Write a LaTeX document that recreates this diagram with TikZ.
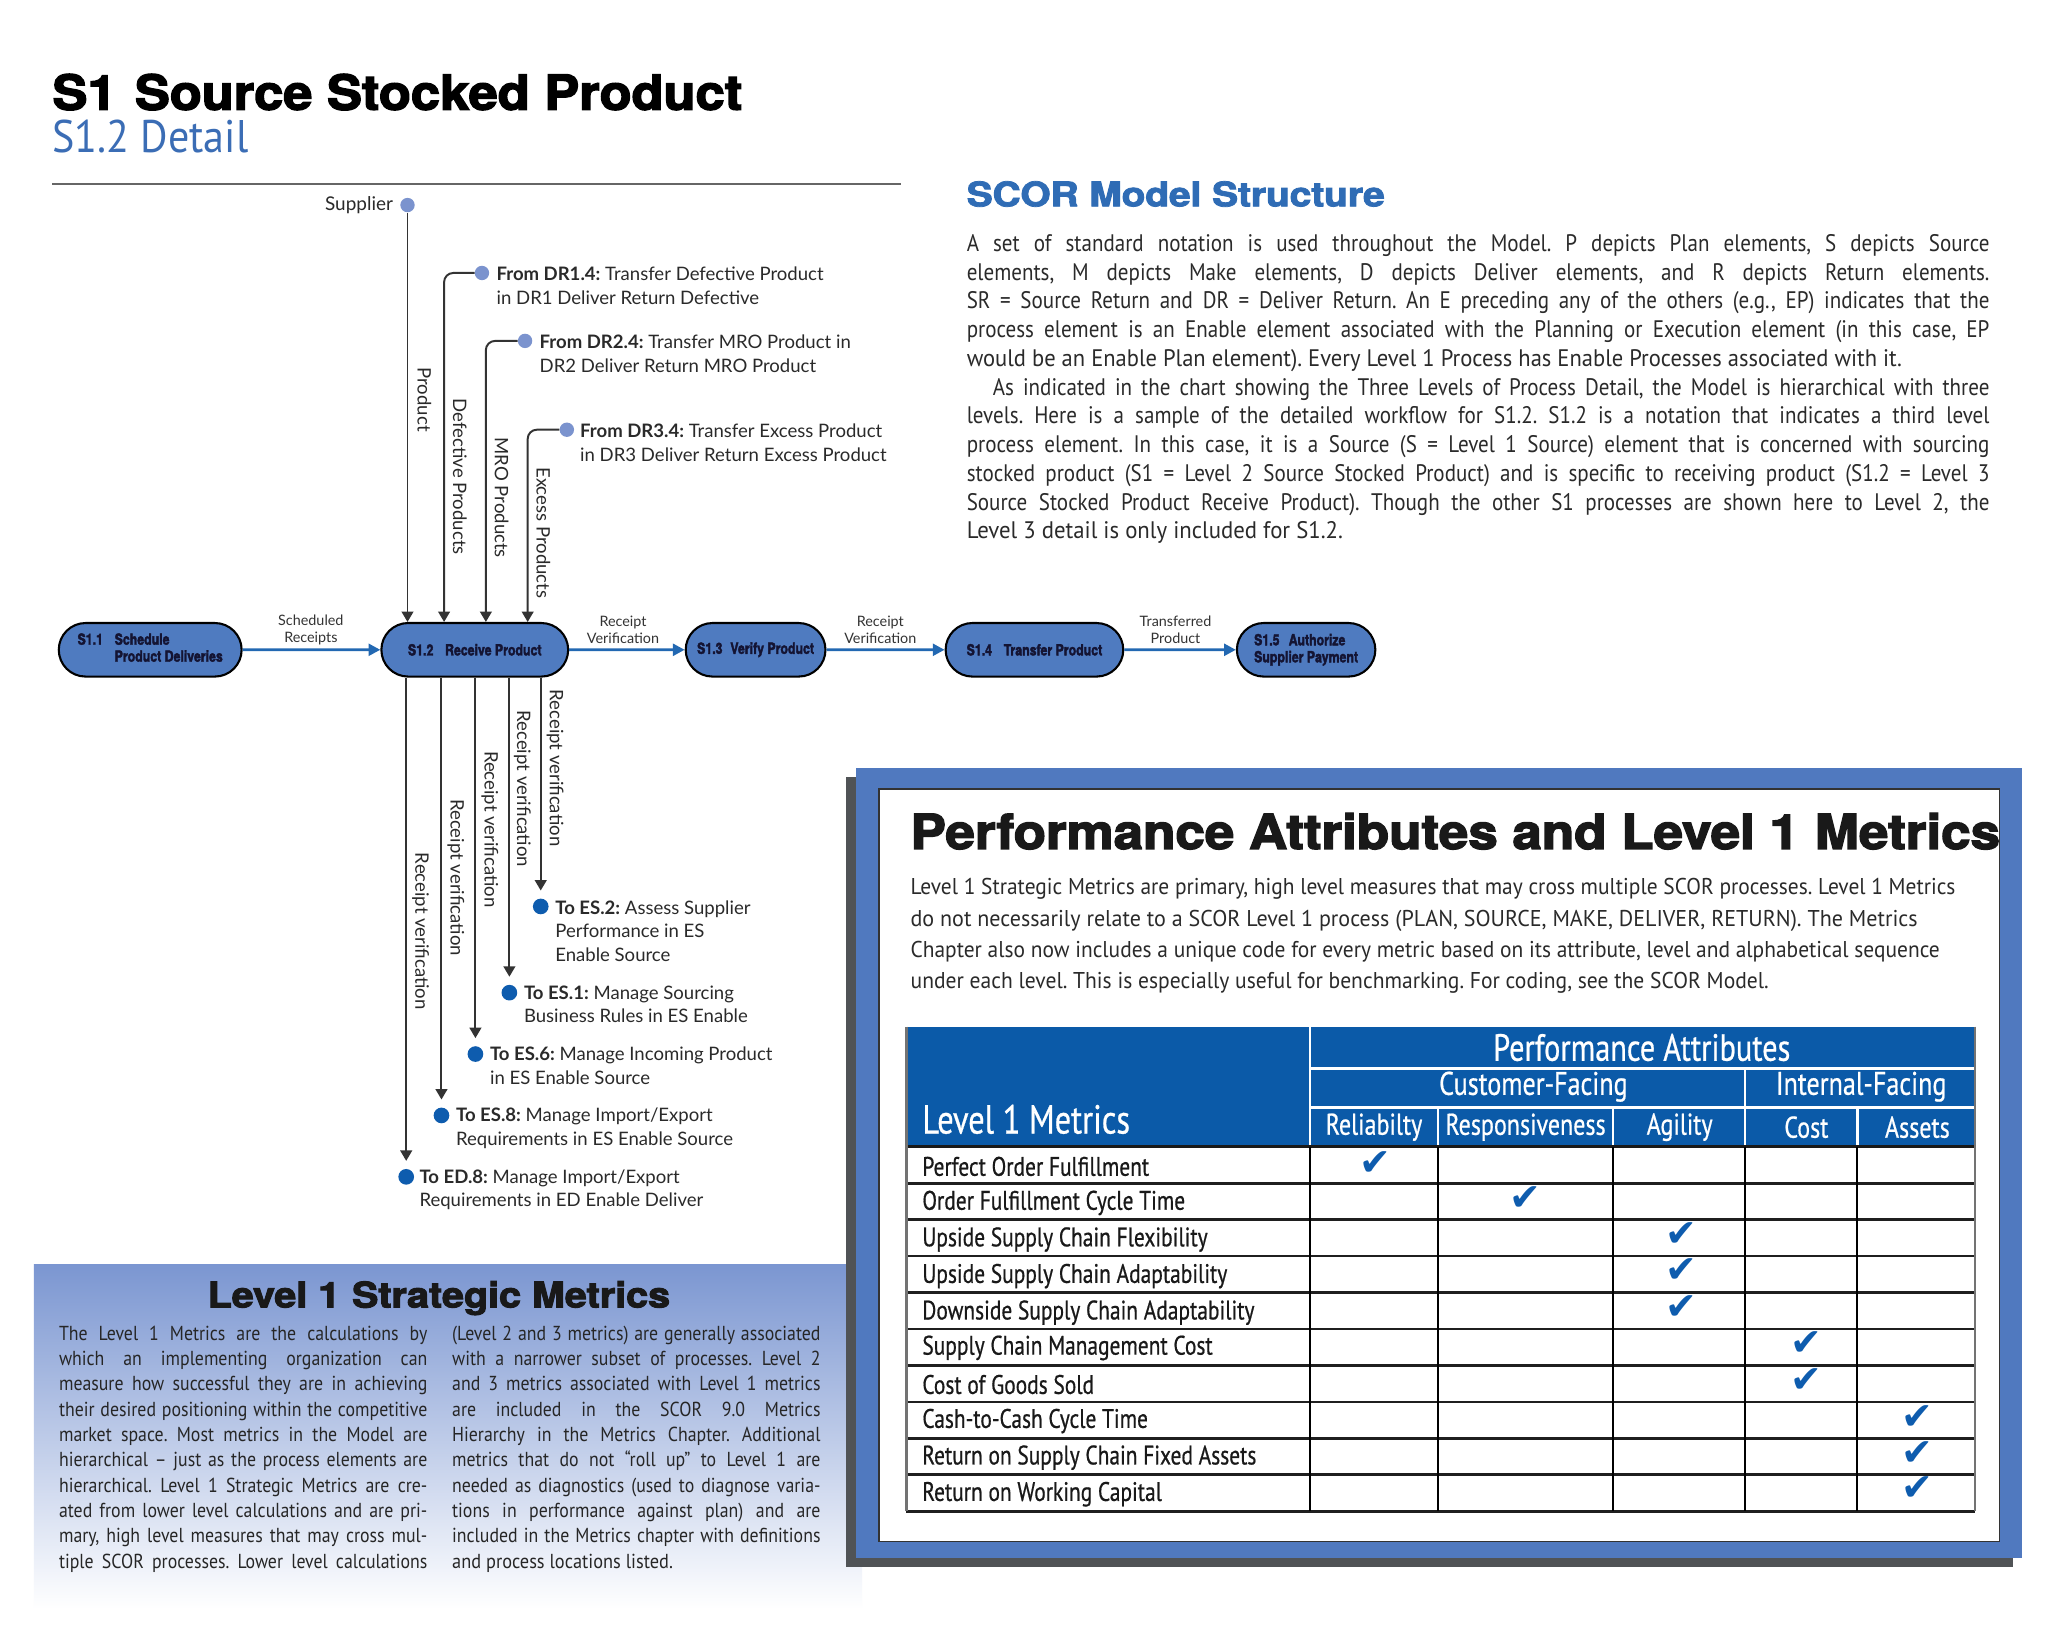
\documentclass[tikz,border=0pt]{standalone}
\usepackage{fontspec}
\usepackage{graphicx}
\usetikzlibrary{arrows.meta,shapes.misc}
\setmainfont{PT Sans}
\newfontfamily\labfont{Lato}
\newfontfamily\bodyfont{PT Sans}[FakeStretch=0.88]
\newfontfamily\tabfont{PT Sans}[FakeStretch=0.8,FakeBold=0.6]
\newfontfamily\heavyfont{TeX Gyre Heros}[BoldFeatures={FakeBold=2.8}]
\newfontfamily\condheavy{TeX Gyre Heros}[FakeStretch=0.8,BoldFeatures={FakeBold=2.2}]
\newfontfamily\symfont{DejaVu Sans}
\definecolor{procblue}{HTML}{4F7BC0}
\definecolor{frameblue}{HTML}{5079BF}
\definecolor{tabblue}{HTML}{0B5AA8}
\definecolor{titleblue}{HTML}{3B6DB5}
\definecolor{scorblue}{HTML}{2F6CB5}
\definecolor{linkblue}{HTML}{2268B2}
\definecolor{dotlight}{HTML}{7B93CE}
\definecolor{dotdark}{HTML}{0E5CAE}
\definecolor{gradtop}{HTML}{7B96D1}
\definecolor{darkline}{HTML}{333333}
\definecolor{navytext}{HTML}{141433}
\definecolor{textgrey}{HTML}{2A2A2A}
\definecolor{shadowgrey}{HTML}{505356}
\newlength\jlen
\newcommand\J[2]{\settowidth\jlen{#2}\ifdim\jlen>#1\relax\resizebox{#1}{\height}{#2}\else\makebox[#1][s]{#2}\fi}
\newcommand\RW[2]{\resizebox{#1}{\height}{#2}}
\newcommand\lines[1]{\begin{tabular}[t]{@{}l@{}}#1\end{tabular}}
\newcommand\ck{{\symfont\char"2714}}
\begin{document}
\frenchspacing
\begin{tikzpicture}[x=1pt,y=-1pt,
  proc/.style={rounded rectangle, draw=black, line width=1.6pt, fill=procblue, minimum height=41pt,
    text=navytext, font=\condheavy\bfseries\fontsize{11.8}{13}\selectfont, inner sep=0pt, align=left},
  barrow/.style={draw=linkblue, line width=2.2pt, -{Triangle[length=9pt,width=9pt]}},
  darrow/.style={draw=darkline, line width=1.5pt, -{Triangle[length=8pt,width=9pt]}, rounded corners=7pt},
  flowlab/.style={font=\labfont\fontsize{11}{13}\selectfont, text=darkline, align=center, inner sep=0pt},
  lbl/.style={font=\labfont\fontsize{14.2}{18}\selectfont, text=textgrey, inner sep=0pt, anchor=base west},
  vlab/.style={font=\labfont\fontsize{14.2}{16}\selectfont, text=textgrey, inner sep=0pt, rotate=-90},
  ldot/.style={circle, fill=dotlight, minimum size=11pt, inner sep=0pt},
  ddot/.style={circle, fill=dotdark, minimum size=12pt, inner sep=0pt},
  para/.style={inner sep=0pt, anchor=base west, text=textgrey},
  hdr/.style={text=white, inner sep=0pt, font=\tabfont\fontsize{23}{25}\selectfont},
  rowlab/.style={inner sep=0pt, anchor=west, text=black!90, font=\tabfont\fontsize{20.5}{22}\selectfont},
  chk/.style={inner sep=0pt, text=dotdark, font=\fontsize{29}{29}\selectfont}
]
\useasboundingbox[fill=white] (0,0) rectangle (1568,1249);

% ---------- header ----------
\node[para, text=black] (title) at (40,84)
  {\heavyfont\bfseries\fontsize{37}{40}\selectfont\RW{528pt}{S1\hspace{0.35em}Source Stocked Product}};
\node[para, text=titleblue] (subtitle) at (40,117)
  {\bodyfont\fontsize{35}{40}\selectfont\RW{150pt}{S1.2 Detail}};
\draw[draw=black!60, line width=1.2pt] (40,141) -- (690,141);

% ---------- SCOR model structure ----------
\node[para, text=scorblue] (scortitle) at (740,158)
  {\condheavy\bfseries\fontsize{26}{30}\selectfont\RW{320pt}{SCOR Model Structure}};
\node[para] (scorpara) at (740,192.5) {\bodyfont\fontsize{18.3}{22}\selectfont\lines{%
\J{783pt}{A set of standard notation is used throughout the Model. P depicts Plan elements, S depicts Source}\\
\J{783pt}{elements, M depicts Make elements, D depicts Deliver elements, and R depicts Return elements.}\\
\J{783pt}{SR = Source Return and DR = Deliver Return. An E preceding any of the others (e.g., EP) indicates that the}\\
\J{783pt}{process element is an Enable element associated with the Planning or Execution element (in this case, EP}\\
\RW{716pt}{would be an Enable Plan element). Every Level 1 Process has Enable Processes associated with it.}\\
\hspace*{20pt}\J{763pt}{As indicated in the chart showing the Three Levels of Process Detail, the Model is hierarchical with three}\\
\J{783pt}{levels. Here is a sample of the detailed workflow for S1.2. S1.2 is a notation that indicates a third level}\\
\J{783pt}{process element. In this case, it is a Source (S = Level 1 Source) element that is concerned with sourcing}\\
\J{783pt}{stocked product (S1 = Level 2 Source Stocked Product) and is specific to receiving product (S1.2 = Level 3}\\
\J{783pt}{Source Stocked Product Receive Product). Though the other S1 processes are shown here to Level 2, the}\\
\RW{288pt}{Level 3 detail is only included for S1.2.}}};

% ---------- process nodes ----------
\node[proc, minimum width=140pt] (s11) at (115,497.5)
  {\begin{tabular}{@{}l@{\hspace{9pt}}l@{}}S1.1&Schedule\\&Product Deliveries\end{tabular}};
\node[proc, minimum width=143pt] (s12) at (363.5,497.5) {S1.2\hspace{9pt}Receive Product};
\node[proc, minimum width=107pt] (s13) at (578.5,497.5) {S1.3\hspace{6pt}Verify Product};
\node[proc, minimum width=136pt] (s14) at (792,497.5) {S1.4\hspace{9pt}Transfer Product};
\node[proc, minimum width=106pt] (s15) at (1000,497.5) {S1.5\hspace{7pt}Authorize\\Supplier Payment};

\draw[barrow] (s11) -- (s12);
\draw[barrow] (s12) -- (s13);
\draw[barrow] (s13) -- (s14);
\draw[barrow] (s14) -- (s15);
\node[flowlab] (l1) at (238,482) {Scheduled\\Receipts};
\node[flowlab] (l2) at (477,482) {Receipt\\Verification};
\node[flowlab] (l3) at (674,482) {Receipt\\Verification};
\node[flowlab] (l4) at (900,482) {Transferred\\Product};

% ---------- inputs ----------
\coordinate (xa) at (340,0);
\coordinate (xb) at (372,0);
\coordinate (xc) at (404,0);
\node[ldot] (sup) at (312,157) {};
\node[ldot] (dr14) at (369,209) {};
\node[ldot] (dr24) at (402,261) {};
\node[ldot] (dr34) at (434,329) {};
\node[anchor=east, inner sep=0pt, font=\labfont\fontsize{14.5}{16}\selectfont, text=textgrey] (suplab) at (301,157) {Supplier};
\draw[darrow] (sup.south) -- (sup |- s12.north);
\draw[darrow] (dr14.west) -- (dr14.west -| xa) -- (xa |- s12.north);
\draw[darrow] (dr24.west) -- (dr24.west -| xb) -- (xb |- s12.north);
\draw[darrow] (dr34.west) -- (dr34.west -| xc) -- (xc |- s12.north);
\node[lbl] (t14) at (380,215) {\lines{\textbf{From DR1.4:} Transfer Defective Product\\in DR1 Deliver Return Defective}};
\node[lbl] (t24) at (413,267) {\lines{\textbf{From DR2.4:} Transfer MRO Product in\\DR2 Deliver Return MRO Product}};
\node[lbl] (t34) at (444,335) {\lines{\textbf{From DR3.4:} Transfer Excess Product\\in DR3 Deliver Return Excess Product}};
\node[vlab] (v1) at (325,306) {Product};
\node[vlab] (v2) at (352,365) {Defective Products};
\node[vlab] (v3) at (384,381) {MRO Products};
\node[vlab] (v4) at (416,408) {Excess Products};

% ---------- outputs ----------
\node[ddot] (ed8) at (311,901) {};
\node[ddot] (es8) at (338,854) {};
\node[ddot] (es6) at (364,807) {};
\node[ddot] (es1) at (390,760) {};
\node[ddot] (es2) at (414,694) {};
\foreach \d in {ed8,es8,es6,es1,es2}
  \draw[darrow] (\d |- s12.south) -- ([yshift=6pt]\d.north);
\node[vlab] (o1) at (322,713) {Receipt verification};
\node[vlab] (o2) at (349,672) {Receipt verification};
\node[vlab] (o3) at (375,635) {Receipt verification};
\node[vlab] (o4) at (400,604) {Receipt verification};
\node[vlab] (o5) at (425,588) {Receipt verification};
\node[lbl] (tes2) at (425,700) {\lines{\textbf{To ES.2:} Assess Supplier\\Performance in ES\\Enable Source}};
\node[lbl] (tes1) at (401,765) {\lines{\textbf{To ES.1:} Manage Sourcing\\Business Rules in ES Enable}};
\node[lbl] (tes6) at (375,812) {\lines{\textbf{To ES.6:} Manage Incoming Product\\in ES Enable Source}};
\node[lbl] (tes8) at (349,859) {\lines{\textbf{To ES.8:} Manage Import/Export\\Requirements in ES Enable Source}};
\node[lbl] (ted8) at (321,906) {\lines{\textbf{To ED.8:} Manage Import/Export\\Requirements in ED Enable Deliver}};

% ---------- Level 1 strategic metrics ----------
\shade[top color=gradtop, bottom color=white] (26,968) rectangle (660,1232);
\node[inner sep=0pt, anchor=base, text=black!90] (strtitle) at (336,1001)
  {\heavyfont\bfseries\fontsize{27}{30}\selectfont\RW{354pt}{Level 1\hspace{0.3em}Strategic Metrics}};
\node[para, text=black!85] (strleft) at (45,1026) {\bodyfont\fontsize{15.5}{19.4}\selectfont\lines{%
\J{282pt}{The Level 1 Metrics are the calculations by}\\
\J{282pt}{which an implementing organization can}\\
\J{282pt}{measure how successful they are in achieving}\\
\J{282pt}{their desired positioning within the competitive}\\
\J{282pt}{market space. Most metrics in the Model are}\\
\J{282pt}{hierarchical – just as the process elements are}\\
\J{282pt}{hierarchical. Level 1 Strategic Metrics are cre-}\\
\J{282pt}{ated from lower level calculations and are pri-}\\
\J{282pt}{mary, high level measures that may cross mul-}\\
\J{282pt}{tiple SCOR processes. Lower level calculations}}};
\node[para, text=black!85] (strright) at (346,1026) {\bodyfont\fontsize{15.5}{19.4}\selectfont\lines{%
\J{282pt}{(Level 2 and 3 metrics) are generally associated}\\
\J{282pt}{with a narrower subset of processes. Level 2}\\
\J{282pt}{and 3 metrics associated with Level 1 metrics}\\
\J{282pt}{are included in the SCOR 9.0 Metrics}\\
\J{282pt}{Hierarchy in the Metrics Chapter. Additional}\\
\J{282pt}{metrics that do not “roll up” to Level 1 are}\\
\J{282pt}{needed as diagnostics (used to diagnose varia-}\\
\J{282pt}{tions in performance against plan) and are}\\
\J{282pt}{included in the Metrics chapter with definitions}\\
\RW{169pt}{and process locations listed.}}};

% ---------- performance box ----------
\fill[shadowgrey] (648,595) rectangle (1541,1200);
\fill[frameblue] (655,588) rectangle (1548,1193);
\filldraw[fill=white, draw=black!80, line width=1pt] (673,604) rectangle (1531,1180);
\node[para, text=black!90] (perftitle) at (697,650)
  {\heavyfont\bfseries\fontsize{37}{40}\selectfont\RW{834pt}{Performance Attributes and Level 1\hspace{0.3em}Metrics}};
\node[para] (perfpara) at (697,685) {\bodyfont\fontsize{17.5}{24}\selectfont\lines{%
\RW{800pt}{Level 1 Strategic Metrics are primary, high level measures that may cross multiple SCOR processes. Level 1 Metrics}\\
\RW{771pt}{do not necessarily relate to a SCOR Level 1 process (PLAN, SOURCE, MAKE, DELIVER, RETURN). The Metrics}\\
\RW{788pt}{Chapter also now includes a unique code for every metric based on its attribute, level and alphabetical sequence}\\
\RW{657pt}{under each level. This is especially useful for benchmarking. For coding, see the SCOR Model.}}};

% table header
\fill[tabblue] (694,786) rectangle (1512,878);
\begin{scope}[draw=white, line width=2pt]
\draw (1003,786) -- (1003,878);
\draw (1003,818) -- (1512,818);
\draw (1003,848) -- (1512,848);
\draw (1336,818) -- (1336,878);
\draw (1101,848) -- (1101,878);
\draw (1235,848) -- (1235,878);
\draw (1422,848) -- (1422,878);
\end{scope}
\node[hdr, font=\tabfont\fontsize{31}{33}\selectfont, anchor=west] (h0) at (706,857) {Level 1 Metrics};
\node[hdr, font=\tabfont\fontsize{29}{31}\selectfont] (h1) at (1257,802) {Performance Attributes};
\node[hdr, font=\tabfont\fontsize{25}{27}\selectfont] (h2) at (1174,832) {Customer-Facing};
\node[hdr, font=\tabfont\fontsize{25}{27}\selectfont] (h3) at (1425,832) {Internal-Facing};
\node[hdr] (c1) at (1052,863) {Reliabilty};
\node[hdr] (c2) at (1168,863) {Responsiveness};
\node[hdr] (c3) at (1286,863) {Agility};
\node[hdr] (c4) at (1383,863) {Cost};
\node[hdr] (c5) at (1468,863) {Assets};

% table body
\foreach \k in {1,...,10}
  \draw[draw=black!88, line width=2pt] (694,878+27.9*\k) -- (1512,878+27.9*\k);
\draw[draw=black!90, line width=2.4pt] (694,878) -- (1512,878);
\foreach \xx in {1003,1101,1235,1336,1422}
  \draw[draw=black, line width=1.6pt] (\xx,878) -- (\xx,1157);
\draw[draw=black!55, line width=1.6pt] (694,786) -- (694,1157);
\draw[draw=black!55, line width=1.6pt] (1512,786) -- (1512,1157);

\node[rowlab] (r1) at (706,893) {Perfect Order Fulfillment};
\node[rowlab] (r2) at (706,921) {Order Fulfillment Cycle Time};
\node[rowlab] (r3) at (706,949) {Upside Supply Chain Flexibility};
\node[rowlab] (r4) at (706,977) {Upside Supply Chain Adaptability};
\node[rowlab] (r5) at (706,1005) {Downside Supply Chain Adaptability};
\node[rowlab] (r6) at (706,1032) {Supply Chain Management Cost};
\node[rowlab] (r7) at (706,1060) {Cost of Goods Sold};
\node[rowlab] (r8) at (706,1088) {Cash-to-Cash Cycle Time};
\node[rowlab] (r9) at (706,1116) {Return on Supply Chain Fixed Assets};
\node[rowlab] (r10) at (706,1144) {Return on Working Capital};

\node[chk] (k1) at (1053,891) {\ck};
\node[chk] (k2) at (1168,918) {\ck};
\node[chk] (k3) at (1287,945) {\ck};
\node[chk] (k4) at (1287,973) {\ck};
\node[chk] (k5) at (1287,1001) {\ck};
\node[chk] (k6) at (1383,1029) {\ck};
\node[chk] (k7) at (1383,1057) {\ck};
\node[chk] (k8) at (1468,1085) {\ck};
\node[chk] (k9) at (1468,1113) {\ck};
\node[chk] (k10) at (1468,1140) {\ck};
\end{tikzpicture}
\end{document}
